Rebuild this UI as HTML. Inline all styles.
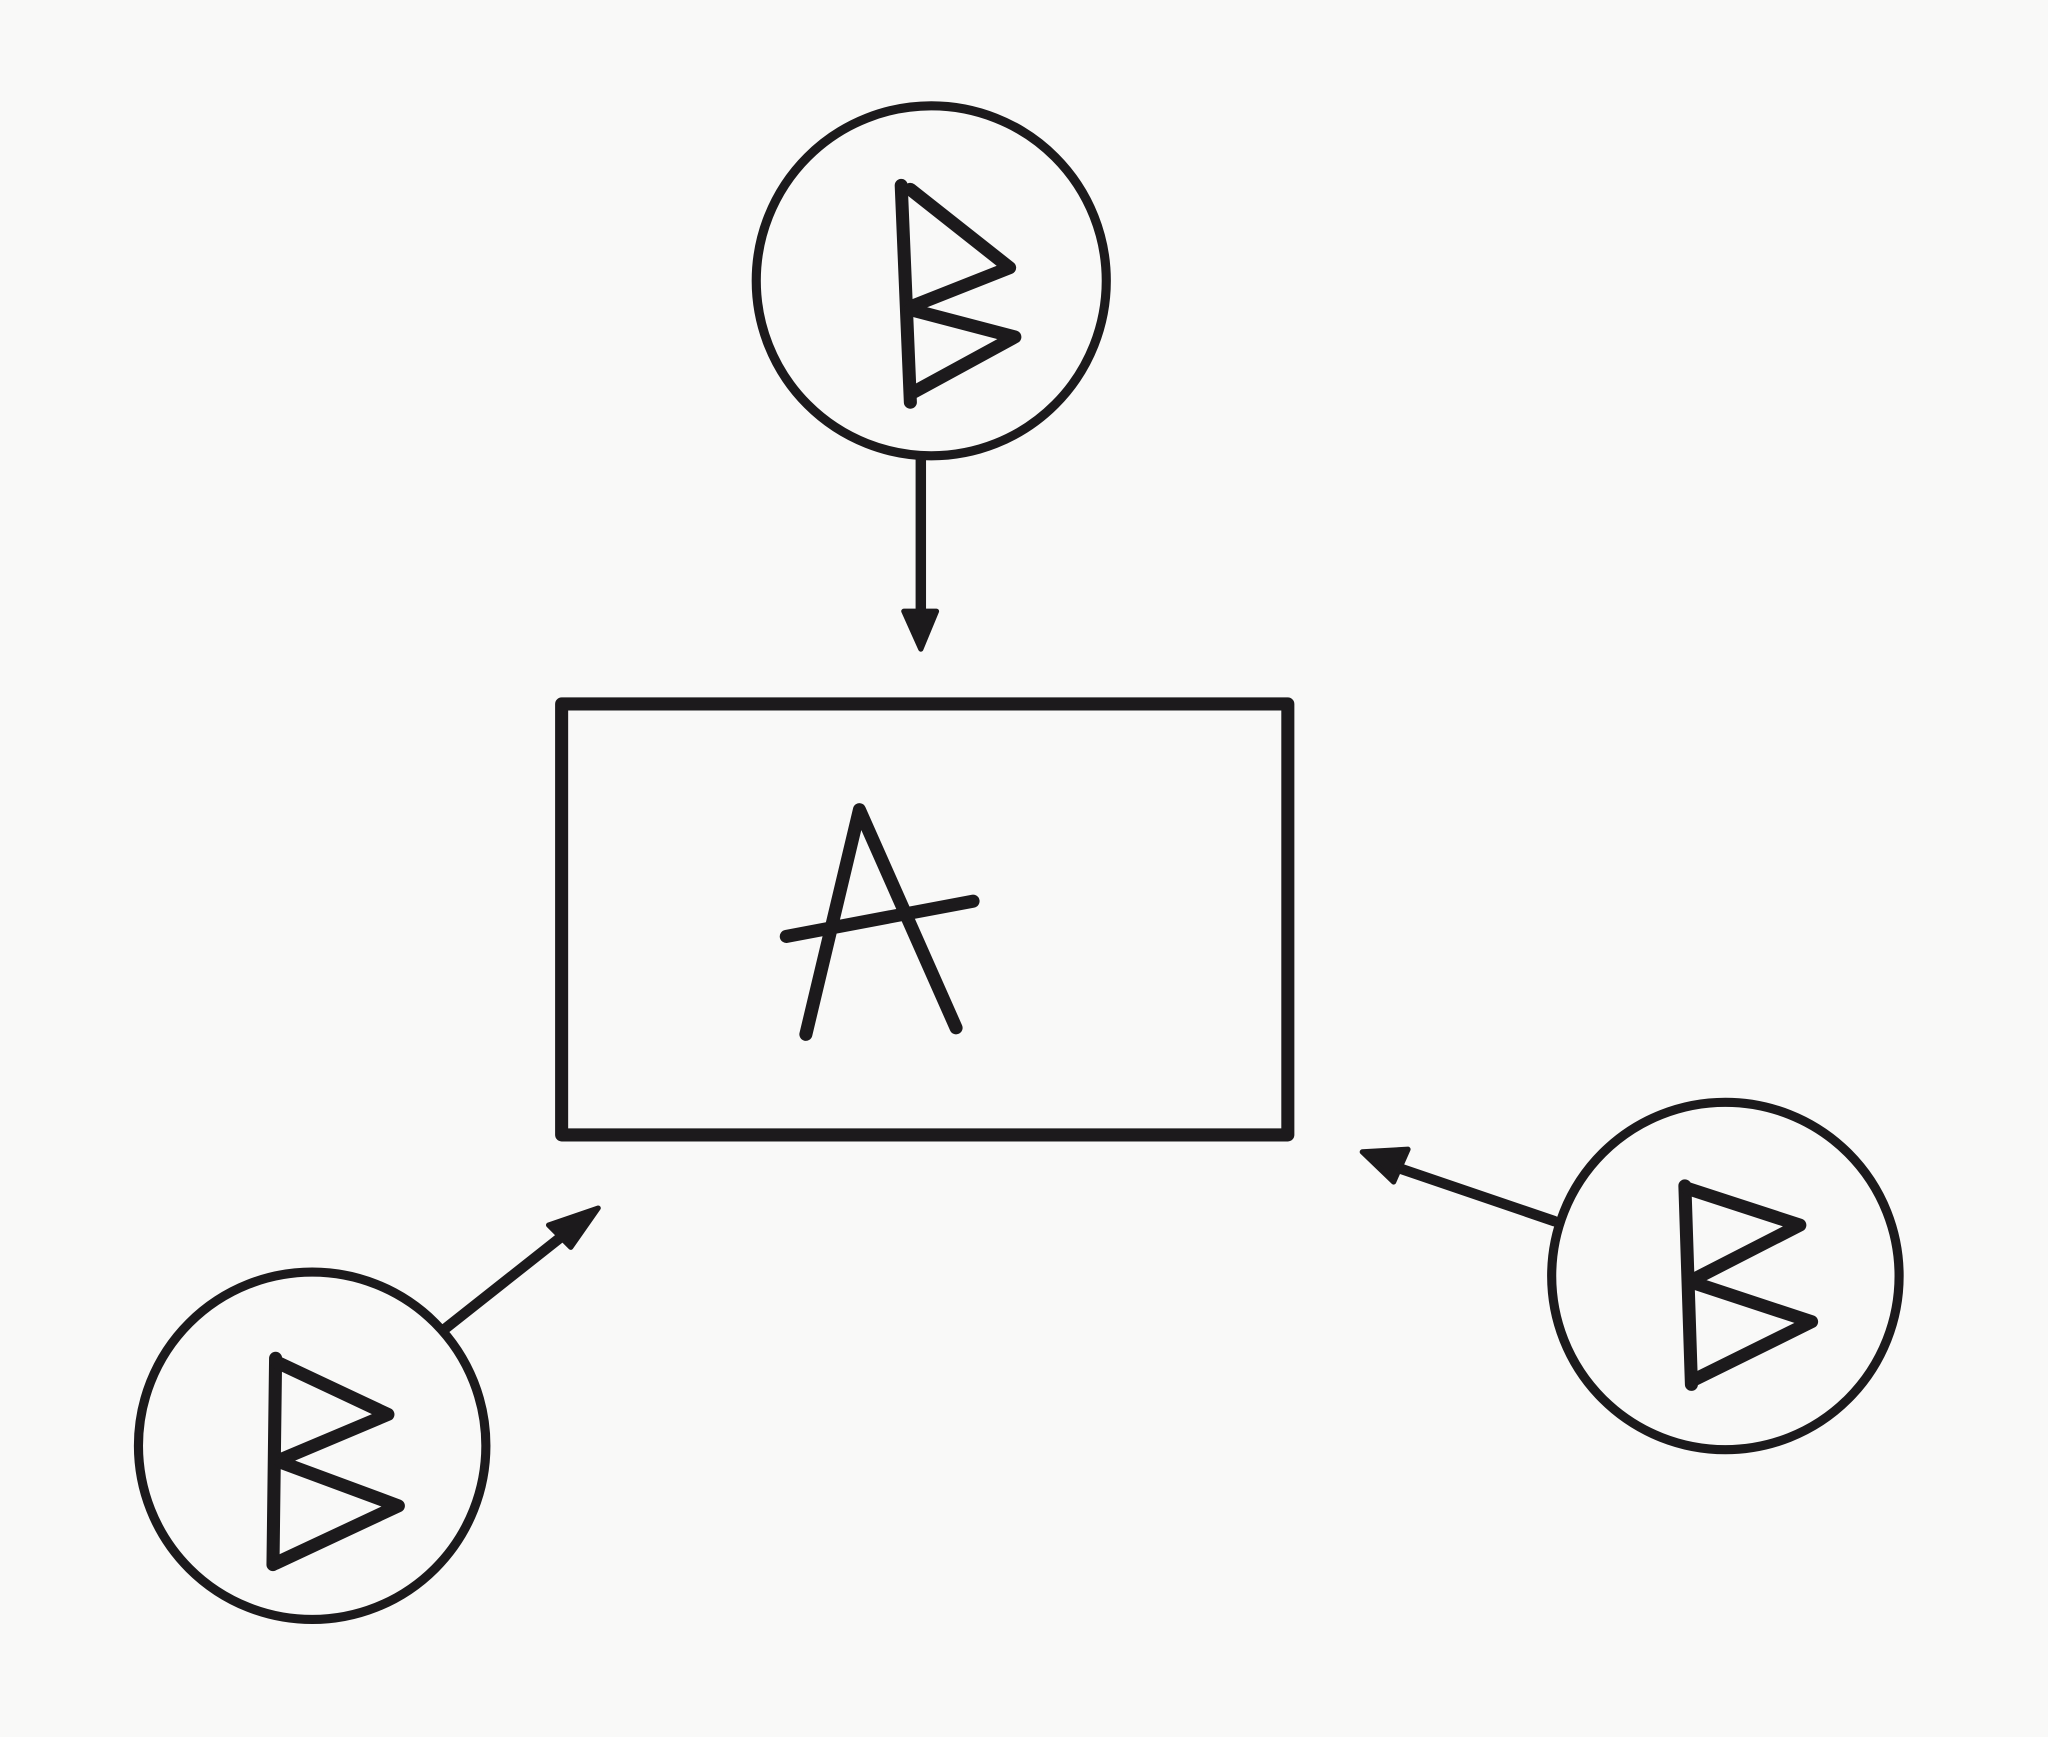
<!DOCTYPE html>
<html><head><style>html,body{margin:0;padding:0;background:#f9f9f8;}svg{display:block}</style></head>
<body>
<svg width="2048" height="1737" viewBox="0 0 1568 1330" preserveAspectRatio="none" xmlns="http://www.w3.org/2000/svg">
<rect width="1568" height="1330" fill="#f9f9f8"/>
<g fill="none" stroke="#1c1a1c" stroke-width="7" stroke-linecap="round" stroke-linejoin="round">
<circle cx="713" cy="215" r="134"/>
<circle cx="239" cy="1107" r="133"/>
<circle cx="1321" cy="977" r="133"/>
<rect x="430" y="539" width="556" height="330" stroke-width="10"/>
<path d="M705 352 L705 480" stroke-width="8"/>
<path d="M340 1018 L445 935" stroke-width="8"/>
<path d="M1190 935 L1058 890" stroke-width="8"/>
<g stroke-width="10">
<!-- A -->
<path d="M617 792 L658 620 L732 787"/>
<path d="M602 717 L745 690"/>
<!-- B top -->
<path d="M690 142 L697 308"/>
<path d="M697 145 L773 205 L697 235"/>
<path d="M697 237 L777 258 L700 300"/>
<!-- B bottom-left -->
<path d="M211 1040 L209 1198"/>
<path d="M212 1043 L297 1083 L214 1118"/>
<path d="M216 1120 L305 1153 L211 1197"/>
<!-- B right -->
<path d="M1290 908 L1295 1060"/>
<path d="M1292 910 L1378 938 L1296 980"/>
<path d="M1296 982 L1387 1012 L1296 1057"/>
</g>
</g>
<g fill="#1c1a1c" stroke="#1c1a1c" stroke-width="4" stroke-linejoin="round">
<polygon points="692,468 717,468 705,497"/>
<polygon points="420,938 458,925 437,955"/>
<polygon points="1043,882 1078,880 1067,905"/>
</g>
</svg>
</body></html>
